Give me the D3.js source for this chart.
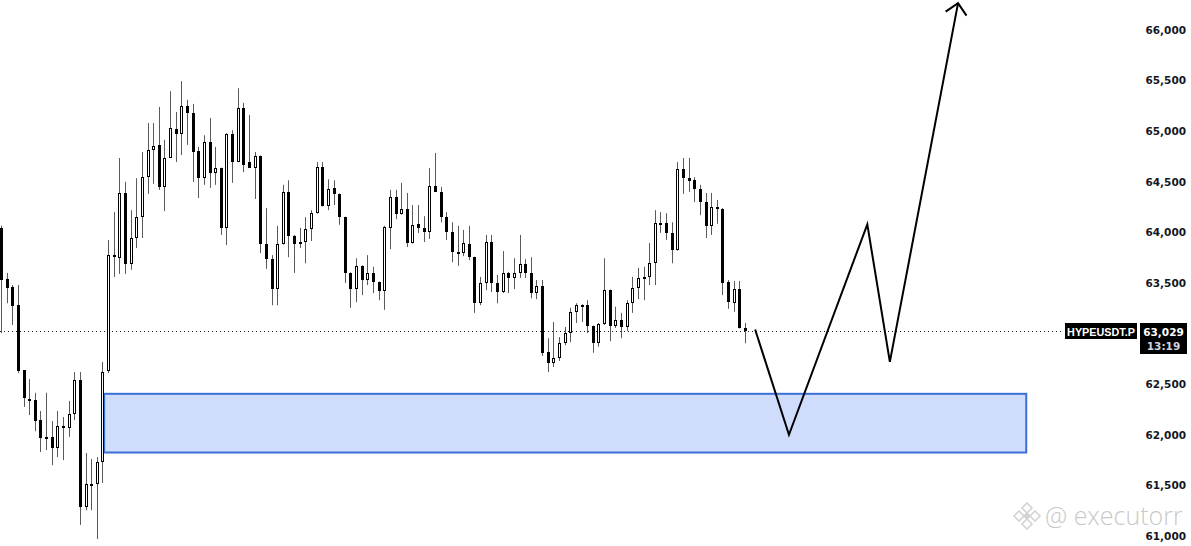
<!DOCTYPE html>
<html>
<head>
<meta charset="utf-8">
<script src="https://cdn.jsdelivr.net/npm/d3@7/dist/d3.min.js"></script>
<style>
  html, body { margin: 0; padding: 0; background: #ffffff; }
  svg { display: block; }
</style>
</head>
<body>
<script>
// ---------- DATA ----------
const symbol = "HYPEUSDT.P";
const lastPrice = 63029;
const countdown = "13:19";
const priceTicks = [61000, 61500, 62000, 62500, 63000, 63500, 64000, 64500, 65000, 65500, 66000];

const open = [
  64045,63540,63460,63280,62640,62355,62345,62145,61975,61980,
  61870,62085,62070,62205,62540,61290,61515,61515,61730,62630,
  63775,63745,64390,63690,63945,64150,64545,64815,64865,64450,
  64735,65020,64970,65250,65180,64805,64535,64895,64585,64635,
  64045,64970,64695,65230,64695,64635,64755,63885,63735,63440,
  63885,64400,63965,63885,63905,64035,64190,64645,64260,64440,
  64380,64150,63600,63440,63670,63530,63600,63510,63420,64045,
  64350,64180,64230,63895,64085,64045,64005,64460,64400,64150,
  64005,63805,63800,63885,63755,63300,63500,63905,63500,63410,
  63600,63550,63600,63690,63600,63400,63470,62815,62710,62760,
  62905,63005,63215,63280,63285,63075,62905,63095,63430,63075,
  63135,63065,63300,63450,63550,63555,63700,64090,64095,63995,
  63825,64625,64535,64515,64430,64300,64065,64250,64230,63510,
  63300,63440,63055
];
const high = [
  64065,63600,63480,63480,62640,62550,62415,62235,62415,62135,
  62235,62175,62335,62620,62620,61820,61760,61780,62720,63925,
  64200,64735,64500,64220,64535,64795,65080,65080,65240,64915,
  65395,65190,65495,65310,65270,64845,64960,65130,64845,64640,
  64980,65010,65425,65280,65160,64795,64760,64240,63775,64065,
  64470,64515,63975,64045,64150,64220,64695,64695,64525,64515,
  64385,64155,63605,63745,63675,63775,63660,63515,64065,64420,
  64420,64490,64390,64270,64270,64160,64635,64785,64450,64200,
  64100,64065,64025,64065,63760,63560,63975,63975,63580,63815,
  63610,63745,63975,63735,63755,63530,63530,62955,63115,62965,
  63065,63255,63300,63290,63330,63080,63105,63745,63435,63265,
  63205,63330,63560,63650,63660,63895,64220,64200,64190,64100,
  64695,64735,64735,64545,64470,64390,64390,64320,64240,63530,
  63520,63520,63105
];
const low = [
  63005,63300,63085,62610,62275,62195,62035,61830,61850,61700,
  61780,61750,61980,62145,61110,61255,61255,60970,61525,62610,
  63560,63590,63590,63630,63845,63945,64380,64480,64420,64210,
  64735,64695,64765,64865,64500,64340,64470,64440,64470,63975,
  63875,64490,64695,64595,64635,64330,63795,63640,63280,63280,
  63880,63755,63600,63845,63695,63915,64185,64255,64220,64270,
  64075,63500,63255,63310,63380,63480,63400,63330,63235,63835,
  64130,64175,63855,63890,63995,63905,63935,64400,64100,63925,
  63705,63670,63765,63725,63205,63280,63430,63410,63300,63400,
  63400,63440,63550,63550,63350,63340,62780,62620,62670,62730,
  62885,62915,63105,63115,63005,62810,62870,63085,62925,63055,
  62955,63025,63205,63340,63330,63480,63480,63995,63925,63695,
  63820,64380,64400,64300,64170,63945,63975,64085,63380,63245,
  63215,63050,62905
];
const close = [
  63530,63450,63270,62630,62365,62340,62135,61970,61980,61870,
  62085,62090,62205,62540,61285,61515,61515,61730,62620,63775,
  63755,64390,63690,63945,64150,64545,64815,64855,64450,64735,
  65030,64970,65250,65180,64795,64535,64895,64585,64635,64045,
  64970,64695,65230,64665,64635,64755,63885,63735,63440,63885,
  64400,63965,63885,63905,64035,64190,64645,64260,64430,64380,
  64150,63600,63440,63670,63530,63600,63510,63420,64055,64350,
  64180,64230,63895,64075,64045,64005,64460,64400,64150,64005,
  63805,63810,63895,63755,63300,63500,63905,63500,63410,63600,
  63550,63600,63690,63600,63400,63470,62810,62710,62760,62905,
  63005,63215,63280,63285,63075,62905,63095,63430,63075,63135,
  63065,63300,63450,63550,63555,63700,64090,64095,63995,63825,
  64625,64535,64510,64430,64300,64065,64250,64230,63500,63310,
  63440,63055,63029
];

// projected path (bar index, price)
const projIndex = [133.8, 139.8, 153.7, 157.7, 169.8];
const projPrice = [63040, 62000, 64080, 62720, 66265];

// demand zone
const zoneIndex = [18.3, 181.9];
const zonePrice = [62405, 61825];

// ---------- CHART ----------
const W = 1191, H = 546;
const svg = d3.select("body").append("svg").attr("width", W).attr("height", H);
svg.append("rect").attr("width", W).attr("height", H).attr("fill", "#ffffff");

const x = d3.scaleLinear().domain([0, 132]).range([1, 745]);
const y = d3.scaleLinear().domain([61000, 66000]).range([536, 30]);

// zone
svg.append("rect")
  .attr("x", x(zoneIndex[0]))
  .attr("y", y(zonePrice[0]))
  .attr("width", x(zoneIndex[1]) - x(zoneIndex[0]))
  .attr("height", y(zonePrice[1]) - y(zonePrice[0]))
  .attr("fill", "#cfdcfc")
  .attr("stroke", "#3a6fd6")
  .attr("stroke-width", 2);

// last price dotted line
const yl = Math.round(y(lastPrice)) + 0.5;
svg.append("line")
  .attr("x1", 0).attr("x2", 1064)
  .attr("y1", yl).attr("y2", yl)
  .attr("stroke", "#131722")
  .attr("stroke-width", 1)
  .attr("stroke-dasharray", "1,3");

// candles
const bars = open.map((o, i) => ({ i, o, h: high[i], l: low[i], c: close[i] }));
const g = svg.append("g");
g.selectAll("line.wick").data(bars).join("line")
  .attr("class", "wick")
  .attr("x1", d => Math.round(x(d.i)) + 0.5)
  .attr("x2", d => Math.round(x(d.i)) + 0.5)
  .attr("y1", d => y(d.h))
  .attr("y2", d => y(d.l))
  .attr("stroke", "#5a5a5a")
  .attr("stroke-width", 1);
g.selectAll("rect.body").data(bars).join("rect")
  .attr("class", "body")
  .attr("x", d => Math.round(x(d.i)) - 0.5)
  .attr("width", 2)
  .attr("y", d => Math.round(y(Math.max(d.o, d.c))) + 0.5)
  .attr("height", d => Math.max(1, Math.round(y(Math.min(d.o, d.c))) - Math.round(y(Math.max(d.o, d.c))) - 1))
  .attr("fill", d => d.c >= d.o ? "#ffffff" : "#000000")
  .attr("stroke", "#000000")
  .attr("stroke-width", 1);

// projection zigzag
const pts = projIndex.map((v, i) => [x(v), y(projPrice[i])]);
svg.append("path")
  .attr("d", d3.line()(pts))
  .attr("fill", "none")
  .attr("stroke", "#000000")
  .attr("stroke-width", 2)
  .attr("stroke-linejoin", "miter");
// arrowhead
{
  const a = pts[pts.length - 2], b = pts[pts.length - 1];
  const ang = Math.atan2(a[1] - b[1], a[0] - b[0]);
  const len = 15, spread = Math.PI / 4;
  const p1 = [b[0] + len * Math.cos(ang + spread), b[1] + len * Math.sin(ang + spread)];
  const p2 = [b[0] + len * Math.cos(ang - spread), b[1] + len * Math.sin(ang - spread)];
  svg.append("path")
    .attr("d", d3.line()([p1, b, p2]))
    .attr("fill", "none")
    .attr("stroke", "#000000")
    .attr("stroke-width", 2)
    .attr("stroke-linejoin", "miter");
}

// price axis (ticks hidden behind the last-price label are not drawn, as on the reference)
const visibleTicks = priceTicks.filter(t => Math.abs(y(t) - y(lastPrice)) > 14);
const axis = d3.axisRight(y).tickValues(visibleTicks).tickSize(0).tickPadding(0)
  .tickFormat(d3.format(","));
const ag = svg.append("g").attr("transform", "translate(1186,0)").call(axis);
ag.select(".domain").remove();
ag.selectAll("text")
  .attr("text-anchor", "end")
  .attr("x", 0)
  .attr("font-family", "DejaVu Sans, sans-serif")
  .attr("font-weight", "bold")
  .attr("font-size", 10.5)
  .attr("fill", "#131722");

// symbol label
svg.append("rect").attr("x", 1065).attr("y", 323).attr("width", 72).attr("height", 16).attr("fill", "#000");
svg.append("text").attr("x", 1101).attr("y", 335.5).attr("text-anchor", "middle")
  .attr("font-family", "Liberation Sans, Arial, sans-serif").attr("font-weight", "bold")
  .attr("font-size", 10.8).attr("fill", "#ffffff").text(symbol);

// price label
svg.append("rect").attr("x", 1140).attr("y", 323).attr("width", 47).attr("height", 31).attr("fill", "#000");
svg.append("text").attr("x", 1163.5).attr("y", 335.5).attr("text-anchor", "middle")
  .attr("font-family", "DejaVu Sans, sans-serif").attr("font-weight", "bold")
  .attr("font-size", 10.5).attr("fill", "#ffffff").text(d3.format(",")(lastPrice));
svg.append("text").attr("x", 1163.5).attr("y", 349.5).attr("text-anchor", "middle")
  .attr("font-family", "DejaVu Sans, sans-serif").attr("font-weight", "bold")
  .attr("font-size", 10.5).attr("fill", "#d1d4dc").text(countdown);

// watermark
const wm = svg.append("g").attr("opacity", 0.9);
const ic = wm.append("g").attr("transform", "translate(1027,516)")
  .attr("fill", "none").attr("stroke", "#cfcfcf").attr("stroke-width", 1.6);
[[0,-8,5],[-8,0,5],[8,0,5],[0,8,5]].forEach(([cx, cy, r]) => {
  ic.append("path").attr("d", `M${cx},${cy - r}L${cx + r},${cy}L${cx},${cy + r}L${cx - r},${cy}Z`);
});
ic.append("path").attr("d", "M0,-3L3,0L0,3L-3,0Z").attr("fill", "#cfcfcf");
wm.append("text").attr("x", 1045).attr("y", 525)
  .attr("font-family", "Open Sans, sans-serif").attr("font-weight", 300)
  .attr("font-size", 25).attr("fill", "#c4c4c4")
  .text("@ executorr");
</script>
</body>
</html>
